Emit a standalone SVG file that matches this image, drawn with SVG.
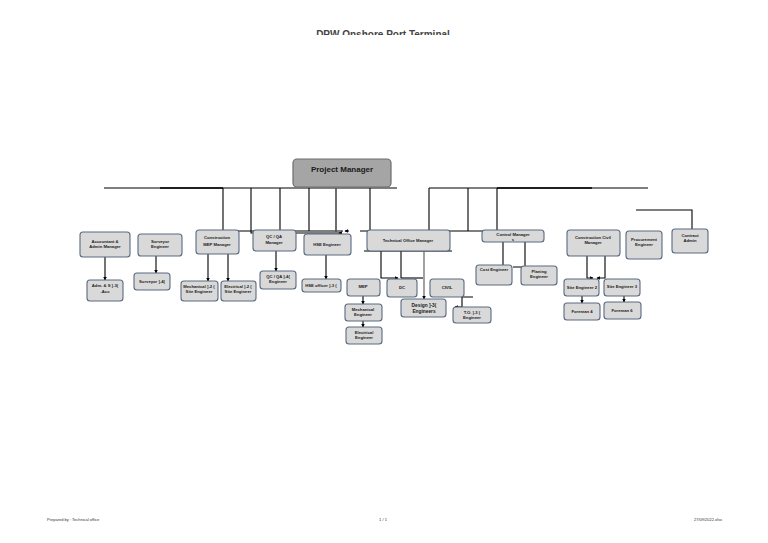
<svg xmlns="http://www.w3.org/2000/svg" width="768" height="543" viewBox="0 0 768 543">
<style>
.n rect{fill:#d9d9d9;stroke:#5a6a82;stroke-width:1.1}
.pm rect{fill:#a5a5a5;stroke:#6d6d6d;stroke-width:1.2}
text{font-family:"Liberation Sans",Arial,sans-serif;fill:#1a1a1a;text-anchor:middle}
.n text{font-size:4.2px;font-weight:bold}
.pm text{font-size:8px;font-weight:bold}
.c path{fill:none;stroke:#000;stroke-width:1.1}
.c .g{stroke:#555}
.c .t{stroke-width:1.7}
.f{font-size:4px;fill:#333}
</style>
<defs>
<marker id="a" viewBox="0 0 6 6" refX="5" refY="3" markerUnits="userSpaceOnUse" markerWidth="3.5" markerHeight="3.5" orient="auto"><path d="M0,0L6,3L0,6z" fill="#000"/></marker>
<clipPath id="tc"><rect x="0" y="0" width="768" height="35"/></clipPath>
</defs>
<rect width="768" height="543" fill="#fff"/>
<text x="383" y="38" clip-path="url(#tc)" style="font-size:10px;font-weight:bold;fill:#444">DPW Onshore Port Terminal</text>
<g class="c">
<path d="M104,188H397"/>
<path class="t" d="M160,188H223"/>
<path d="M223,188V231H343M251,188V233H340M280,188V231M309,188V231"/>
<path class="g t" d="M336,188V232"/>
<path d="M349,231h-4" marker-end="url(#a)"/>
<path d="M341,233h-2" marker-end="url(#a)"/>
<path d="M370,188V231"/>
<path d="M429,188H648"/>
<path class="t" d="M497,188H592"/>
<path d="M429,188V231M468,188V231M497,188V231M360,231H497"/>
<path d="M636,210H692V229"/>
<path d="M105,257V280" marker-end="url(#a)"/>
<path d="M156,256V273" marker-end="url(#a)"/>
<path d="M208,254V281" marker-end="url(#a)"/>
<path d="M228,254V281" marker-end="url(#a)"/>
<path d="M276,251V271" marker-end="url(#a)"/>
<path d="M326,255V279" marker-end="url(#a)"/>
<path d="M364,251H452"/>
<path d="M381,251V278H398" marker-end="url(#a)"/>
<path d="M401,251V278"/>
<path d="M401,278H423"/>
<path class="g" d="M424,251V299" marker-end="url(#a)"/>
<path d="M363,296V304" marker-end="url(#a)"/>
<path d="M363,321V327" marker-end="url(#a)"/>
<path d="M473,297H462V307H455" marker-end="url(#a)"/>
<path d="M503,242V267H511" marker-end="url(#a)"/>
<path d="M525,242V267H513"/>
<path d="M587,256V278H593" marker-end="url(#a)"/>
<path d="M605,256V278H597" marker-end="url(#a)"/>
<path d="M582,296V303" marker-end="url(#a)"/>
<path d="M624,296V302" marker-end="url(#a)"/>
</g>
<g id="pm" class="pm"><rect x="293" y="159" width="98" height="28" rx="4"/><text x="342" y="172">Project Manager</text></g>
<g id="acc" class="n"><rect x="80" y="232" width="50" height="25" rx="3"/><text x="105" y="243">Accountant &amp;</text><text x="105" y="248">Admin Manager</text></g>
<g id="surv" class="n"><rect x="138" y="234" width="44" height="22" rx="3"/><text x="160" y="243">Surveyor</text><text x="160" y="248">Engineer</text></g>
<g id="mep" class="n"><rect x="196" y="230" width="43" height="24" rx="3"/><text x="217" y="239">Construction</text><text x="217" y="246">MEP Manager</text></g>
<g id="qcm" class="n"><rect x="253" y="230" width="43" height="21" rx="3"/><text x="274" y="238">QC / QA</text><text x="274" y="244">Manager</text></g>
<g id="hse" class="n"><rect x="304" y="234" width="47" height="21" rx="3"/><text x="327" y="246">HSE Engineer</text></g>
<g id="tom" class="n"><rect x="367" y="230" width="83" height="21" rx="3"/><text x="408" y="242">Technical Office Manager</text></g>
<g id="ctl" class="n"><rect x="482" y="230" width="62" height="12" rx="3"/><text x="513" y="236">Control Manager</text><text x="513" y="241">s</text></g>
<g id="ccm" class="n"><rect x="567" y="230" width="53" height="26" rx="3"/><text x="593" y="239">Construction Civil</text><text x="593" y="244">Manager</text></g>
<g id="proc" class="n"><rect x="626" y="231" width="36" height="28" rx="3"/><text x="644" y="241">Procurement</text><text x="644" y="246">Engineer</text></g>
<g id="ca" class="n"><rect x="672" y="229" width="36" height="24" rx="3"/><text x="690" y="237">Contract</text><text x="690" y="242">Admin</text></g>
<g id="adm" class="n"><rect x="87" y="280" width="36" height="21" rx="3"/><text x="105" y="287">Adm. &amp; S ]-3(</text><text x="105" y="293">-Acc</text></g>
<g id="sv" class="n"><rect x="134" y="273" width="36" height="17" rx="3"/><text x="152" y="283">Surveyor ]-4(</text></g>
<g id="mse" class="n"><rect x="181" y="281" width="37" height="20" rx="3"/><text x="199" y="288">Mechanical ]-2 (</text><text x="199" y="293">Site Engineer</text></g>
<g id="ese" class="n"><rect x="221" y="281" width="35" height="20" rx="3"/><text x="238" y="288">Electrical ]-2 (</text><text x="238" y="293">Site Engineer</text></g>
<g id="qce" class="n"><rect x="260" y="271" width="36" height="18" rx="3"/><text x="278" y="278">QC / QA ]-4(</text><text x="278" y="283">Engineer</text></g>
<g id="hso" class="n"><rect x="302" y="279" width="39" height="13" rx="3"/><text x="321" y="287">HSE officer ]-3 (</text></g>
<g id="mepb" class="n"><rect x="347" y="279" width="33" height="17" rx="3"/><text x="363" y="288">MEP</text></g>
<g id="me" class="n"><rect x="345" y="304" width="37" height="17" rx="3"/><text x="363" y="311">Mechanical</text><text x="363" y="316">Engineer</text></g>
<g id="ee" class="n"><rect x="346" y="327" width="36" height="17" rx="3"/><text x="364" y="334">Electrical</text><text x="364" y="339">Engineer</text></g>
<g id="dc" class="n"><rect x="387" y="279" width="30" height="18" rx="3"/><text x="402" y="289">DC</text></g>
<g id="civ" class="n"><rect x="430" y="279" width="34" height="18" rx="3"/><text x="447" y="289">CIVIL</text></g>
<g id="des" class="n"><rect x="401" y="299" width="45" height="18" rx="3"/><text x="424" y="307" style="font-size:4.8px">Design ]-3(</text><text x="424" y="313" style="font-size:4.8px">Engineers</text></g>
<g id="to" class="n"><rect x="453" y="307" width="38" height="16" rx="3"/><text x="472" y="314">T.O. ]-3 (</text><text x="472" y="319">Engineer</text></g>
<g id="cost" class="n"><rect x="476" y="265" width="36" height="20" rx="3"/><text x="494" y="271">Cost Engineer</text></g>
<g id="plan" class="n"><rect x="521" y="266" width="36" height="19" rx="3"/><text x="539" y="273">Planing</text><text x="539" y="278">Engineer</text></g>
<g id="se2" class="n"><rect x="564" y="279" width="35" height="17" rx="3"/><text x="582" y="289">Site Engineer 2</text></g>
<g id="se3" class="n"><rect x="604" y="279" width="36" height="17" rx="3"/><text x="622" y="288">Site Engineer  3</text></g>
<g id="f4" class="n"><rect x="564" y="303" width="36" height="17" rx="3"/><text x="582" y="313">Foreman 4</text></g>
<g id="f6" class="n"><rect x="604" y="302" width="37" height="17" rx="3"/><text x="622" y="312">Foreman 6</text></g>
<text class="f" x="47" y="521" style="text-anchor:start">Prepared by : Technical office</text>
<text class="f" x="383" y="521">1 / 1</text>
<text class="f" x="722" y="521" style="text-anchor:end">27/09/2022.xlsx</text>
</svg>
